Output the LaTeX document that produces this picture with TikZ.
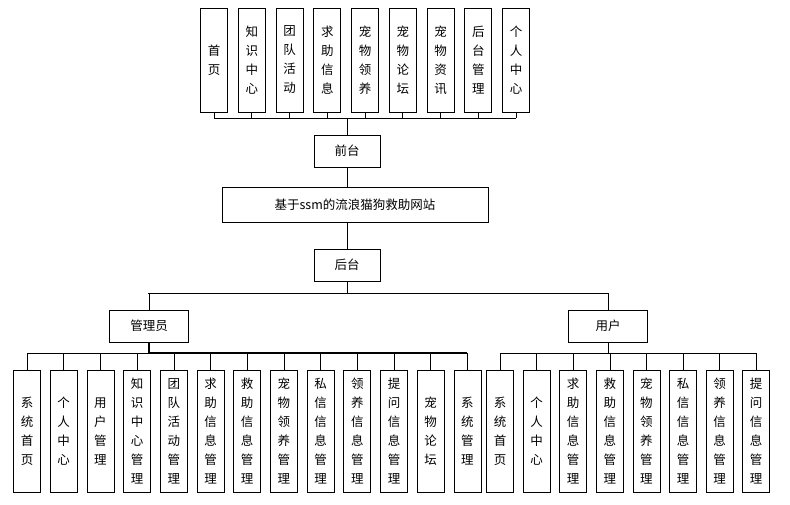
\documentclass[tikz,border=0pt]{standalone}
\usepackage{fontspec}
\setmainfont{Noto Sans CJK SC}
\begin{document}
\begin{tikzpicture}[x=1pt,y=-1pt,
  box/.style={draw,thick,fill=white,inner sep=0pt,font=\fontsize{12.5}{19}\selectfont},
  vbox/.style={box,minimum width=27pt,align=center,text width=14pt},
  hbox/.style={box,minimum height=32pt},
  ln/.style={draw,semithick}]
\useasboundingbox (0,0) rectangle (790,505);
% top
\foreach \t [count=\i] in {首\\页,知\\识\\中\\心,团\\队\\活\\动,求\\助\\信\\息,宠\\物\\领\\养,宠\\物\\论\\坛,宠\\物\\资\\讯,后\\台\\管\\理,个\\人\\中\\心}{
  \pgfmathsetmacro\xx{214+37.75*(\i-1)}
  \node[vbox,minimum height=104pt] (t\i) at (\xx,60) {\t};
  \draw[ln] (t\i.south) -- (\xx,118);
}
\draw[ln] (214,118) -- (516,118);
\node[hbox,minimum width=66pt] (qt) at (347,151) {前台};
\draw[ln] (347,118) -- (qt.north);
\node[box,minimum width=266pt,minimum height=35pt] (root) at (355,205) {基于ssm的流浪猫狗救助网站};
\draw[ln] (qt.south) -- (347,187);
\node[hbox,minimum width=66pt] (ht) at (347,265) {后台};
\draw[ln] (347,222) -- (ht.north);
\draw[ln] (ht.south) -- (347,293);
\draw[ln] (148,293) -- (608,293);
\node[hbox,minimum width=79pt] (adm) at (149,326) {管理员};
\node[hbox,minimum width=79pt] (usr) at (608,326) {用户};
\draw[ln] (149,293) -- (adm.north);
\draw[ln] (608,293) -- (usr.north);
\draw[very thick] (adm.south) -- (149,353);
\draw[ln] (27,353) -- (467,353);
\draw[very thick] (149,353) -- (467,353);
\draw[ln] (usr.south) -- (608,353);
\draw[ln] (500,353) -- (756,353);
\foreach \t [count=\i] in {系\\统\\首\\页,个\\人\\中\\心,用\\户\\管\\理,知\\识\\中\\心\\管\\理,团\\队\\活\\动\\管\\理,求\\助\\信\\息\\管\\理,救\\助\\信\\息\\管\\理,宠\\物\\领\\养\\管\\理,私\\信\\信\\息\\管\\理,领\\养\\信\\息\\管\\理,提\\问\\信\\息\\管\\理,宠\\物\\论\\坛,系\\统\\管\\理}{
  \pgfmathsetmacro\xx{27+36.7*(\i-1)}
  \node[vbox,minimum height=122pt] (a\i) at (\xx,431) {\t};
  \draw[ln] (\xx,353) -- (a\i.north);
}
\foreach \t [count=\i] in {系\\统\\首\\页,个\\人\\中\\心,求\\助\\信\\息\\管\\理,救\\助\\信\\息\\管\\理,宠\\物\\领\\养\\管\\理,私\\信\\信\\息\\管\\理,领\\养\\信\\息\\管\\理,提\\问\\信\\息\\管\\理}{
  \pgfmathsetmacro\xx{500+36.6*(\i-1)}
  \node[vbox,minimum height=122pt] (u\i) at (\xx,431) {\t};
  \draw[ln] (\xx,353) -- (u\i.north);
}
\end{tikzpicture}
\end{document}
